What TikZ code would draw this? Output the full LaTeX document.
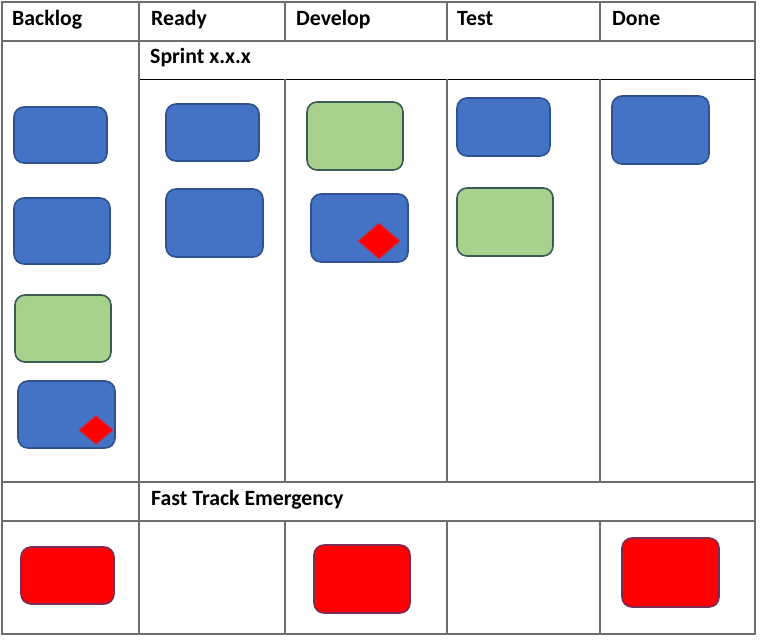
\documentclass[tikz,border=0pt]{standalone}
\usepackage{fontspec}
\setmainfont{Carlito}
\usetikzlibrary{shapes.geometric}
\definecolor{gridgray}{HTML}{6E6E6E}
\definecolor{cblue}{HTML}{4472C4}
\definecolor{cblueb}{HTML}{2F528F}
\definecolor{cgreen}{HTML}{A9D18E}
\definecolor{cgreenb}{HTML}{3A5A55}
\definecolor{cred}{HTML}{FF0000}
\definecolor{credb}{HTML}{7A2E55}
\definecolor{dredb}{HTML}{C0304D}
\tikzset{
  grid/.style={draw=gridgray, line width=2.6pt},
  thin/.style={draw=black, line width=1pt},
  hdr/.style={anchor=base west, inner sep=0pt, font=\bfseries\fontsize{21.8}{26}\selectfont},
  card/.style={rounded corners=10pt, line width=1.6pt, inner sep=0pt},
  bluecard/.style={card, fill=cblue, draw=cblueb},
  greencard/.style={card, fill=cgreen, draw=cgreenb},
  redcard/.style={card, fill=cred, draw=credb},
  flag/.style={diamond, fill=cred, draw=dredb, line width=1pt, inner sep=0pt},
}
\newcommand\kcard[6]{\node[#6, minimum width={(#4-#2)*1pt}, minimum height={(#5-#3)*1pt}] (#1) at ({(#2+#4)/2},{(#3+#5)/2}) {};}
\begin{document}
\begin{tikzpicture}[x=1pt,y=-1pt]
\useasboundingbox (0,0) rectangle (773,643);
\fill[white] (0,0) rectangle (773,643);
% grid
\draw[grid] (2,2) rectangle (755,634);
\draw[grid] (2,41) -- (755,41);
\draw[thin] (139,79) -- (755,79);
\draw[grid] (2,482) -- (755,482);
\draw[grid] (2,521) -- (755,521);
\draw[grid] (139,2) -- (139,634);
\foreach \x in {285,447,600} {
  \draw[grid] (\x,2) -- (\x,41);
  \draw[grid] (\x,79) -- (\x,482);
  \draw[grid] (\x,521) -- (\x,634);
}
% headers
\node[hdr] (hBacklog) at (12,25) {Backlog};
\node[hdr] (hReady) at (151,25) {Ready};
\node[hdr] (hDevelop) at (296,25) {Develop};
\node[hdr] (hTest) at (457,25) {Test};
\node[hdr] (hDone) at (612,25) {Done};
\node[hdr] (sprint) at (150,63) {Sprint x.x.x};
\node[hdr] (fast) at (151,505) {Fast Track Emergency};
% backlog
\kcard{b1}{14}{107}{107}{163}{bluecard}
\kcard{b2}{14}{198}{110}{264}{bluecard}
\kcard{b3}{15}{295}{111}{362}{greencard}
\kcard{b4}{18}{381}{115}{448}{bluecard}
\node[flag, minimum width=34pt, minimum height=29pt] (f1) at (96,430) {};
% ready
\kcard{r1}{166}{104}{259}{161}{bluecard}
\kcard{r2}{166}{189}{263}{257}{bluecard}
% develop
\kcard{d1}{307}{102}{403}{170}{greencard}
\kcard{d2}{311}{194}{408}{262}{bluecard}
\node[flag, minimum width=42pt, minimum height=36pt] (f2) at (379,241) {};
% test
\kcard{t1}{457}{98}{550}{156}{bluecard}
\kcard{t2}{457}{188}{553}{256}{greencard}
% done
\kcard{n1}{612}{96}{709}{164}{bluecard}
% fast track
\kcard{e1}{21}{547}{114}{604}{redcard}
\kcard{e2}{314}{545}{410}{613}{redcard}
\kcard{e3}{622}{538}{719}{607}{redcard}
\end{tikzpicture}
\end{document}
